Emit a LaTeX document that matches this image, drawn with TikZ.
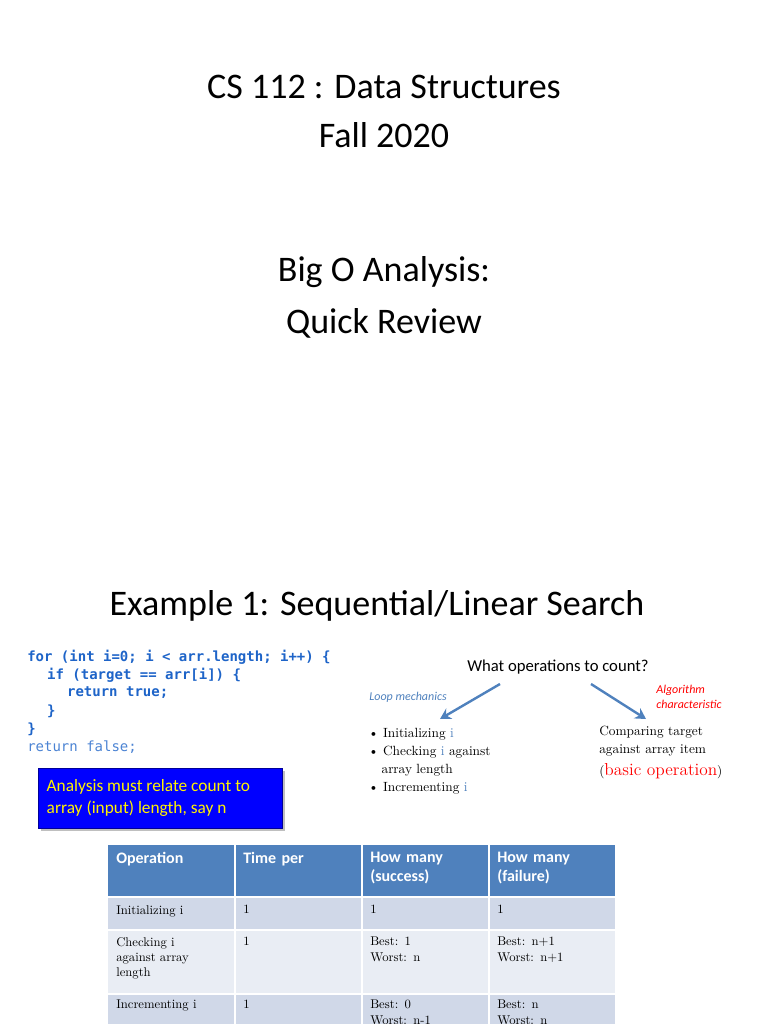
\documentclass[tikz,border=0pt]{standalone}
\usepackage{fontspec}
\setsansfont{Carlito}
\newfontfamily\codefont{DejaVu Sans Mono}
\usetikzlibrary{arrows.meta,shadows}
\definecolor{hdr}{RGB}{79,129,189}
\definecolor{rowa}{RGB}{208,216,232}
\definecolor{rowb}{RGB}{233,237,244}
\definecolor{codeblue}{RGB}{30,100,200}
\definecolor{arr}{RGB}{79,129,189}
\newcommand{\mylb}{\char"7B\relax}
\newcommand{\myrb}{\char"7D\relax}
\newcommand{\myind}{\hspace*{2.6ex}}
\tikzset{
 title/.style={font=\sffamily\fontsize{27}{32}\selectfont,align=center},
 code/.style={anchor=west,font=\codefont\bfseries\fontsize{10.5}{12}\selectfont,text=codeblue,inner sep=0},
 cell/.style={anchor=north west,align=left,inner sep=0,text width=88pt,font=\fontsize{9.5}{11.5}\selectfont},
 hcell/.style={anchor=north west,align=left,inner sep=0,text width=88pt,font=\sffamily\bfseries\fontsize{12}{14}\selectfont,text=white},
 arrowline/.style={draw=arr,line width=1.8pt,-{Stealth[length=8pt,width=9pt]}}
}
\begin{document}
\begin{tikzpicture}[x=0.75pt,y=-0.75pt]
\useasboundingbox (0,0) rectangle (768,1024);
\clip (0,0) rectangle (768,1024);
\node[title] (t1) at (384,87) {CS 112 : Data Structures};
\node[title] (t2) at (384,135) {Fall 2020};
\node[title] (t3) at (384,272) {Big O Analysis:};
\node[title] (t4) at (384,323) {Quick Review};
\node[title] (t5) at (377,606) {Example 1: Sequential/Linear Search};
% code
\node[code] (c1) at (27,657) {for (int i=0; i < arr.length; i++) \mylb};
\node[code] (c2) at (27,675) {\myind if (target == arr[i]) \mylb};
\node[code] (c3) at (27,693) {\myind\myind return true;};
\node[code] (c4) at (27,711) {\myind\myrb};
\node[code] (c5) at (27,729) {\myrb};
\node[code,font=\codefont\fontsize{10.5}{12}\selectfont,text=codeblue!80] (c6) at (27,747) {return false;};
% blue box
\node[draw=blue!60!black,fill=blue,drop shadow,minimum width=183pt,minimum height=45pt,anchor=north west,inner sep=0] (box) at (38,768) {};
\node[anchor=west,align=left,text=yellow,font=\sffamily\fontsize{13}{16}\selectfont] (boxt) at (42,798) {Analysis must relate count to\\array (input) length, say n};
% question
\node[font=\sffamily\fontsize{12.5}{15}\selectfont] (q) at (558,667) {What operations to count?};
\node[font=\sffamily\itshape\fontsize{9}{11}\selectfont,text=arr] (lm) at (408,697) {Loop mechanics};
\node[font=\sffamily\itshape\fontsize{9}{11}\selectfont,text=red,align=left] (ac) at (689,697) {Algorithm\\characteristic};
\coordinate (a1s) at (500,684); \coordinate (a1e) at (440,719);
\coordinate (a2s) at (591,684); \coordinate (a2e) at (646,719);
\draw[arrowline] (a1s) -- (a1e);
\draw[arrowline] (a2s) -- (a2e);
\node[anchor=north west,align=left,inner sep=0,font=\fontsize{10}{13.5}\selectfont] (bl) at (368,728)
 {\textbullet\ Initializing \textcolor{arr}{i}\\\textbullet\ Checking \textcolor{arr}{i} against\\\hspace*{1em}array length\\\textbullet\ Incrementing \textcolor{arr}{i}};
\node[anchor=north west,align=left,inner sep=0,font=\fontsize{10}{13.5}\selectfont] (cmp) at (599,726)
 {Comparing target\\against array item};
\node[anchor=north west,inner sep=0,font=\fontsize{10}{13}\selectfont] (bo) at (599,763)
 {(\textcolor{red}{\fontsize{13}{15}\selectfont basic operation})};
% table
\fill[hdr] (108,845) rectangle (615,897);
\fill[rowa] (108,897) rectangle (615,930);
\fill[rowb] (108,930) rectangle (615,994);
\fill[rowa] (108,994) rectangle (615,1040);
\foreach \x in {235,362,489} \draw[white,line width=1.5pt] (\x,845) -- (\x,1040);
\foreach \y in {897,930,994} \draw[white,line width=1.5pt] (108,\y) -- (615,\y);
\node[hcell] (h1) at (116,852) {Operation};
\node[hcell] (h2) at (243,852) {Time per};
\node[hcell] (h3) at (370,852) {How many\\(success)};
\node[hcell] (h4) at (497,852) {How many\\(failure)};
\node[cell] (r11) at (116,905) {Initializing i};
\node[cell] (r12) at (243,905) {1};
\node[cell] (r13) at (370,905) {1};
\node[cell] (r14) at (497,905) {1};
\node[cell] (r21) at (116,937) {Checking i\\against array\\length};
\node[cell] (r22) at (243,937) {1};
\node[cell] (r23) at (370,937) {Best: 1\\Worst: n};
\node[cell] (r24) at (497,937) {Best: n+1\\Worst: n+1};
\node[cell] (r31) at (116,1000) {Incrementing i};
\node[cell] (r32) at (243,1000) {1};
\node[cell] (r33) at (370,1000) {Best: 0\\Worst: n-1};
\node[cell] (r34) at (497,1000) {Best: n\\Worst: n};
\end{tikzpicture}
\end{document}
